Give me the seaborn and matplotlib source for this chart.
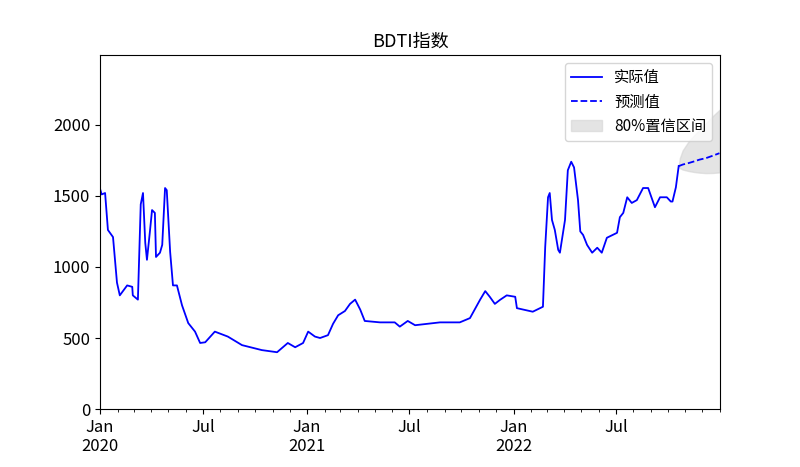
import pandas as pd
import numpy as np
import seaborn as sns
import matplotlib.pyplot as plt
import matplotlib.dates as mdates

plt.rcParams['font.family'] = ['Noto Sans CJK SC', 'DejaVu Sans']
plt.rcParams['axes.unicode_minus'] = False

# actual BDTI values, days counted from 2020-01-01
actual_days = [0, 3, 9, 14, 23, 30, 35, 48, 57, 58, 67, 72, 76, 80, 83, 88, 92, 97, 99, 106,
               110, 115, 118, 124, 129, 136, 145, 156, 168, 177, 186, 203, 226, 251, 286, 313,
               332, 345, 359, 368, 380, 389, 403, 412, 421, 433, 442, 451, 460, 468, 495, 521,
               530, 544, 557, 601, 636, 654, 672, 681, 689, 698, 707, 719, 734, 737, 765, 783,
               787, 792, 795, 799, 804, 810, 813, 822, 827, 833, 838, 845, 849, 854, 861, 870,
               879, 887, 896, 914, 919, 925, 932, 940, 949, 960, 969, 981, 990, 1002, 1009,
               1012, 1018, 1023]
actual_vals = [1550, 1510, 1520, 1260, 1210, 890, 800, 870, 860, 800, 770, 1440, 1520, 1170,
               1050, 1240, 1400, 1380, 1070, 1100, 1155, 1555, 1540, 1105, 870, 870, 730, 605,
               545, 465, 470, 545, 510, 450, 415, 400, 465, 435, 465, 545, 510, 500, 520, 600,
               660, 690, 740, 770, 700, 620, 610, 610, 580, 620, 590, 610, 610, 640, 770, 830,
               790, 740, 768, 800, 790, 710, 685, 720, 1140, 1490, 1520, 1330, 1260, 1120, 1100,
               1330, 1680, 1740, 1700, 1470, 1250, 1225, 1155, 1100, 1135, 1100, 1205, 1240,
               1350, 1380, 1490, 1450, 1470, 1555, 1555, 1420, 1490, 1490, 1460, 1460, 1560, 1710]

# forecast and 80% interval
fc_days = [1023, 1025, 1030, 1040, 1050, 1060, 1071, 1083, 1095]
fc_vals = [1710, 1712, 1720, 1730, 1742, 1755, 1765, 1782, 1800]
fc_upper = [1710, 1765, 1820, 1880, 1925, 1965, 2010, 2060, 2105]
fc_lower = [1710, 1695, 1685, 1675, 1668, 1663, 1660, 1661, 1665]

start = pd.Timestamp('2020-01-01')
actual = pd.DataFrame({'date': start + pd.to_timedelta(actual_days, 'D'), 'value': actual_vals})
fc = pd.DataFrame({'date': start + pd.to_timedelta(fc_days, 'D'), 'value': fc_vals,
                   'upper': fc_upper, 'lower': fc_lower})

fig, ax = plt.subplots(figsize=(8, 4.67), dpi=100)
fig.subplots_adjust(left=0.125, right=0.9, top=0.882, bottom=0.124)

sns.lineplot(data=actual, x='date', y='value', color='blue', linewidth=1.3, ax=ax, label='实际值')
sns.lineplot(data=fc, x='date', y='value', color='blue', linestyle='--', linewidth=1.3, ax=ax, label='预测值')
ax.fill_between(fc['date'], fc['lower'], fc['upper'], color='lightgray', alpha=0.6, label='80%置信区间')

ax.set_xlim(pd.Timestamp('2020-01-01'), pd.Timestamp('2023-01-01'))
ax.set_ylim(0, 2490)
ax.set_yticks([0, 500, 1000, 1500, 2000])
ticks = pd.to_datetime(['2020-01-01', '2020-07-01', '2021-01-01', '2021-07-01', '2022-01-01', '2022-07-01'])
ax.set_xticks(ticks)
ax.set_xticklabels(['Jan\n2020', 'Jul', 'Jan\n2021', 'Jul', 'Jan\n2022', 'Jul'])
ax.xaxis.set_minor_locator(mdates.MonthLocator())
ax.tick_params(axis='both', labelsize=12)
ax.set_xlabel('')
ax.set_ylabel('')
ax.set_title('BDTI指数', fontsize=13)
ax.legend(loc='upper right', fontsize=11)

fig.savefig('out.png')
